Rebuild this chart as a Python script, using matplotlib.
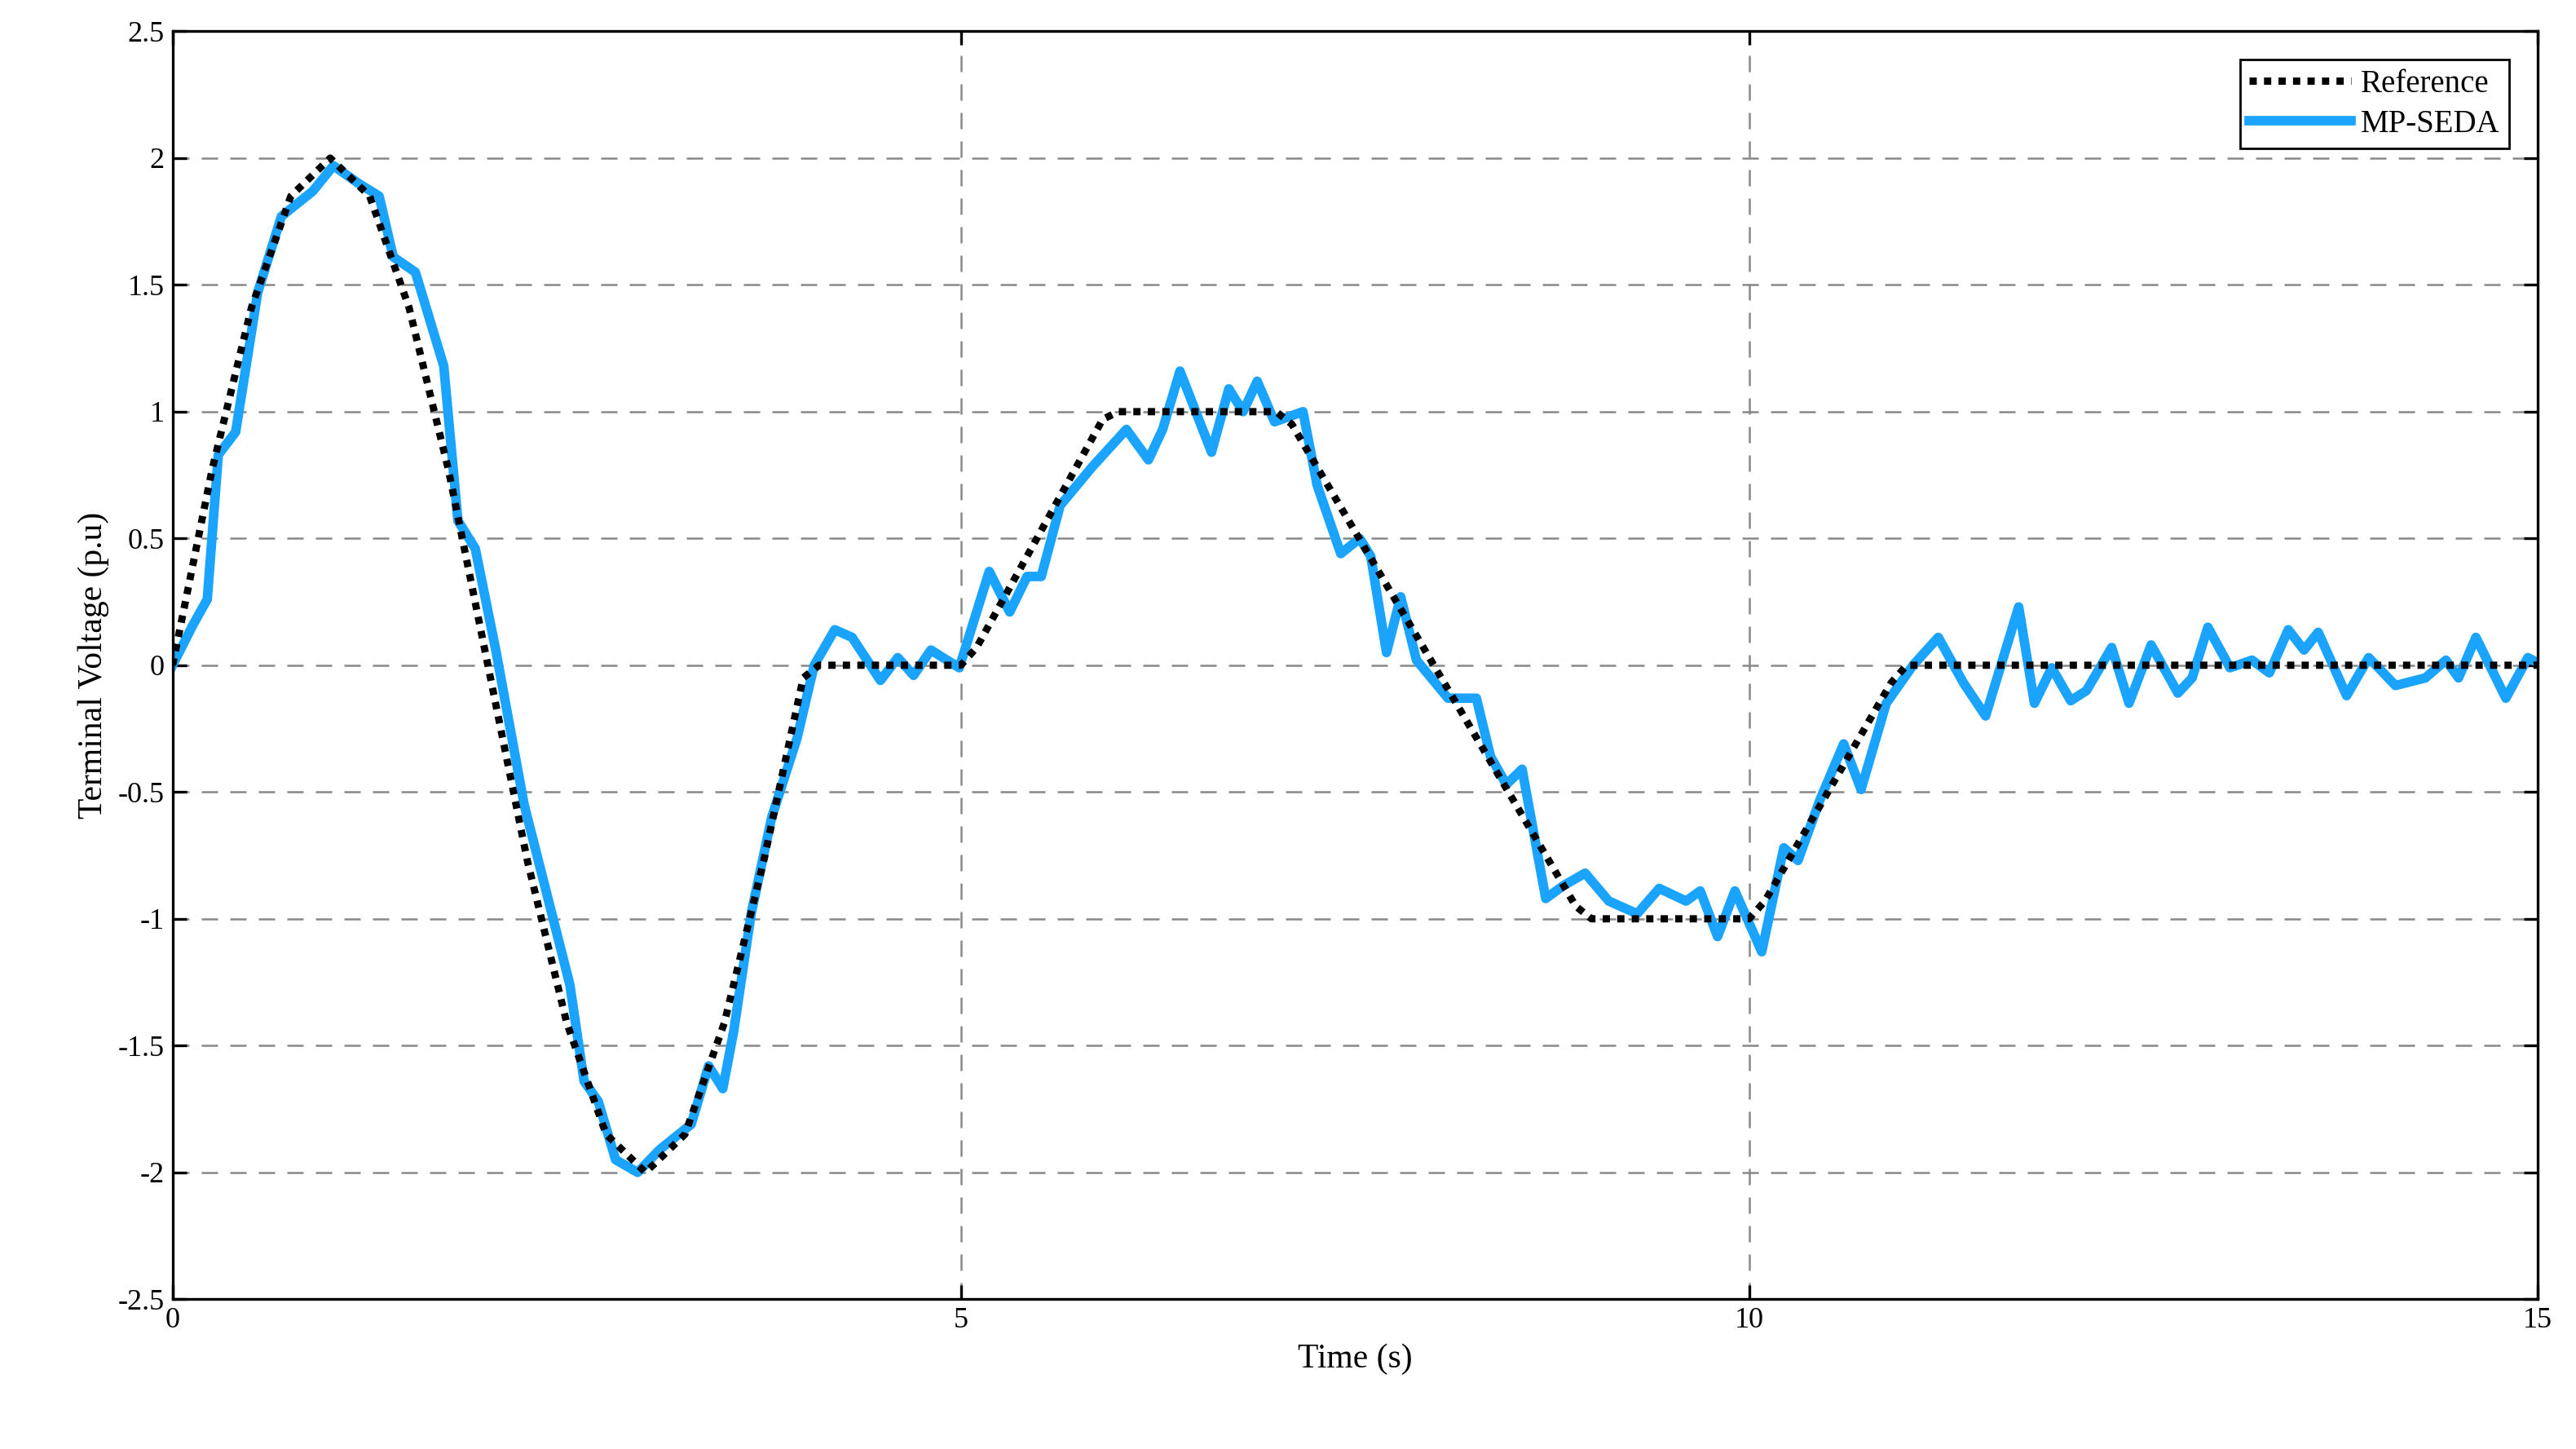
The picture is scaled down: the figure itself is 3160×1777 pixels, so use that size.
import matplotlib
matplotlib.use("Agg")
import matplotlib.pyplot as plt

# Reference trajectory (dotted)
ref_t = [0, 0.25, 0.5, 0.75, 1.0, 1.25, 1.5, 1.75, 2.0, 2.25, 2.5, 2.75, 3.0, 3.25,
         3.5, 3.75, 4.0, 4.1, 5.0, 5.1, 5.9, 6.0, 7.0, 7.1, 8.9, 9.0, 10.0, 10.1, 10.9, 11.0, 15.0]
ref_v = [0, 0.77, 1.41, 1.85, 2.0, 1.85, 1.41, 0.77, 0, -0.77, -1.41, -1.85, -2.0, -1.85,
         -1.41, -0.77, -0.05, 0, 0, 0.07, 0.97, 1.0, 1.0, 0.95, -0.95, -1.0, -1.0, -0.93, -0.07, 0, 0]

# MP-SEDA response (solid blue)
seda_t = [0, 0.13, 0.22, 0.29, 0.40, 0.54, 0.69, 0.89, 1.02, 1.18, 1.31, 1.40, 1.54, 1.72,
          1.81, 1.92, 2.05, 2.23, 2.52, 2.61, 2.70, 2.81, 2.95, 3.09, 3.29, 3.40, 3.49, 3.56,
          3.67, 3.80, 3.96, 4.07, 4.20, 4.31, 4.49, 4.60, 4.70, 4.81, 4.99, 5.18, 5.31, 5.42,
          5.51, 5.63, 5.83, 6.05, 6.19, 6.28, 6.39, 6.59, 6.70, 6.79, 6.88, 6.99, 7.17, 7.26,
          7.41, 7.53, 7.60, 7.70, 7.79, 7.89, 8.09, 8.27, 8.36, 8.46, 8.56, 8.71, 8.82, 8.96,
          9.11, 9.29, 9.43, 9.60, 9.69, 9.80, 9.91, 10.08, 10.22, 10.31, 10.45, 10.60, 10.71,
          10.87, 11.04, 11.20, 11.36, 11.50, 11.71, 11.81, 11.92, 12.04, 12.14, 12.30, 12.41,
          12.55, 12.72, 12.81, 12.91, 13.05, 13.19, 13.30, 13.42, 13.52, 13.61, 13.79, 13.93,
          14.10, 14.29, 14.42, 14.50, 14.61, 14.80, 14.94, 15.0]
seda_v = [0, 0.16, 0.26, 0.83, 0.92, 1.47, 1.77, 1.87, 1.97, 1.90, 1.85, 1.61, 1.55, 1.18,
          0.57, 0.46, 0.06, -0.55, -1.26, -1.64, -1.72, -1.95, -2.0, -1.91, -1.81, -1.58, -1.67,
          -1.44, -0.98, -0.60, -0.29, 0.0, 0.14, 0.11, -0.06, 0.03, -0.04, 0.06, -0.01, 0.37,
          0.21, 0.35, 0.35, 0.63, 0.78, 0.93, 0.81, 0.93, 1.16, 0.84, 1.09, 1.0, 1.12, 0.96,
          1.0, 0.71, 0.44, 0.50, 0.43, 0.05, 0.27, 0.02, -0.13, -0.13, -0.36, -0.47, -0.41,
          -0.92, -0.87, -0.82, -0.93, -0.98, -0.88, -0.93, -0.89, -1.07, -0.89, -1.13, -0.72,
          -0.77, -0.53, -0.31, -0.49, -0.15, 0.0, 0.11, -0.07, -0.20, 0.23, -0.15, -0.01, -0.14,
          -0.10, 0.07, -0.15, 0.08, -0.11, -0.05, 0.15, -0.01, 0.02, -0.03, 0.14, 0.06, 0.13,
          -0.12, 0.03, -0.08, -0.05, 0.02, -0.05, 0.11, -0.13, 0.03, 0.01]

plt.rcParams["font.family"] = ["Liberation Serif", "DejaVu Serif"]

fig = plt.figure(figsize=(15.8, 8.885), dpi=200)
ax = fig.add_axes([0.067, 0.1034, 0.918, 0.8750])

ax.plot(ref_t, ref_v, color="black", lw=3.2, ls=(0, (1, 1)), label="Reference", zorder=3)
ax.plot(seda_t, seda_v, color="#1AA3FF", lw=4.2, solid_joinstyle="round",
        label="MP-SEDA", zorder=2)

ax.set_xlim(0, 15)
ax.set_ylim(-2.5, 2.5)
ax.set_xticks([0, 5, 10, 15])
ax.set_yticks([-2.5, -2, -1.5, -1, -0.5, 0, 0.5, 1, 1.5, 2, 2.5])
ax.set_yticklabels(["-2.5", "-2", "-1.5", "-1", "-0.5", "0", "0.5", "1", "1.5", "2", "2.5"])
ax.tick_params(direction="in", top=True, right=True, labelsize=13, length=6, width=1.2)
ax.grid(True, ls=(0, (8, 6)), color="#888888", lw=0.9)
for s in ax.spines.values():
    s.set_linewidth(1.2)

ax.set_xlabel("Time (s)", fontsize=15)
ax.set_ylabel("Terminal Voltage (p.u)", fontsize=15)

leg = ax.legend(loc="upper right", fontsize=14, fancybox=False, framealpha=1,
                edgecolor="black", handlelength=3.2, handletextpad=0.3,
                borderpad=0.3, labelspacing=0.3, borderaxespad=0.9)
leg.get_frame().set_linewidth(1.0)

fig.savefig("out.png", dpi=200)
